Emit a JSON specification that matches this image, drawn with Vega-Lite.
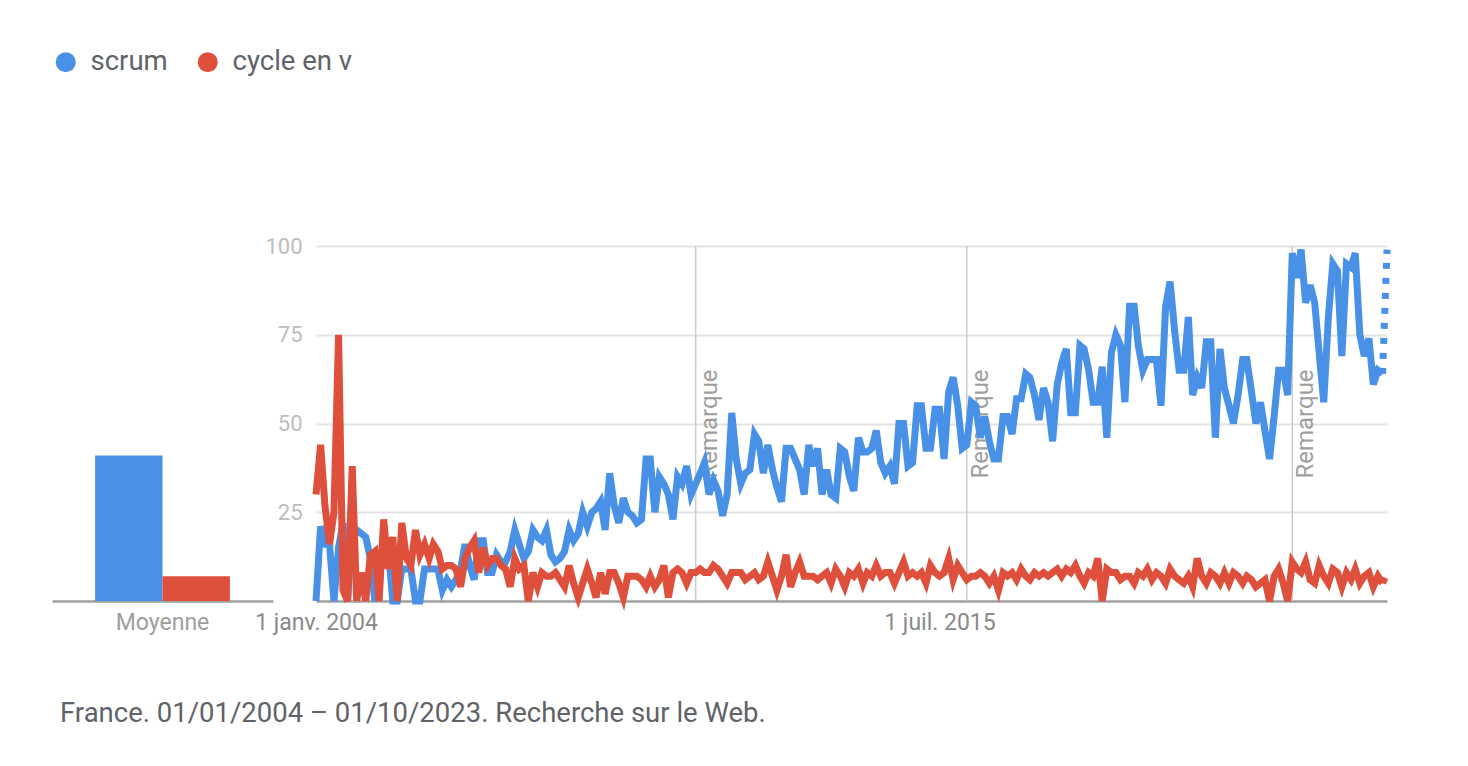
{
  "$schema": "https://vega.github.io/schema/vega-lite/v6.json",
  "background": "white",
  "padding": {"left": 52, "top": 48, "right": 20, "bottom": 20},
  "config": {
    "font": "Roboto",
    "view": {"stroke": null},
    "axis": {"labelFont": "Roboto"},
    "legend": {"labelFont": "Roboto"}
  },
  "datasets": {
    "trends": [
      {"date":"2004-01-01","scrum":0,"cycle en v":30},{"date":"2004-02-01","scrum":21,"cycle en v":44},{"date":"2004-03-01","scrum":16,"cycle en v":27},{"date":"2004-04-01","scrum":16,"cycle en v":16},{"date":"2004-05-01","scrum":0,"cycle en v":25},{"date":"2004-06-01","scrum":15,"cycle en v":75},{"date":"2004-07-01","scrum":22,"cycle en v":3},{"date":"2004-08-01","scrum":0,"cycle en v":0},{"date":"2004-09-01","scrum":21,"cycle en v":38},{"date":"2004-10-01","scrum":20,"cycle en v":0},{"date":"2004-11-01","scrum":19,"cycle en v":8},{"date":"2004-12-01","scrum":18,"cycle en v":0},
      {"date":"2005-01-01","scrum":12,"cycle en v":13},{"date":"2005-02-01","scrum":0,"cycle en v":14},{"date":"2005-03-01","scrum":9,"cycle en v":0},{"date":"2005-04-01","scrum":15,"cycle en v":23},{"date":"2005-05-01","scrum":15,"cycle en v":9},{"date":"2005-06-01","scrum":0,"cycle en v":18},{"date":"2005-07-01","scrum":0,"cycle en v":0},{"date":"2005-08-01","scrum":9,"cycle en v":22},{"date":"2005-09-01","scrum":9,"cycle en v":12},{"date":"2005-10-01","scrum":9,"cycle en v":10},{"date":"2005-11-01","scrum":0,"cycle en v":20},{"date":"2005-12-01","scrum":0,"cycle en v":13},
      {"date":"2006-01-01","scrum":9,"cycle en v":16},{"date":"2006-02-01","scrum":9,"cycle en v":12},{"date":"2006-03-01","scrum":9,"cycle en v":16},{"date":"2006-04-01","scrum":9,"cycle en v":14},{"date":"2006-05-01","scrum":3,"cycle en v":9},{"date":"2006-06-01","scrum":6,"cycle en v":10},{"date":"2006-07-01","scrum":4,"cycle en v":10},{"date":"2006-08-01","scrum":6,"cycle en v":9},{"date":"2006-09-01","scrum":9,"cycle en v":4},{"date":"2006-10-01","scrum":16,"cycle en v":12},{"date":"2006-11-01","scrum":10,"cycle en v":15},{"date":"2006-12-01","scrum":6,"cycle en v":17},
      {"date":"2007-01-01","scrum":17,"cycle en v":8},{"date":"2007-02-01","scrum":17,"cycle en v":15},{"date":"2007-03-01","scrum":8,"cycle en v":10},{"date":"2007-04-01","scrum":8,"cycle en v":12},{"date":"2007-05-01","scrum":13,"cycle en v":12},{"date":"2007-06-01","scrum":11,"cycle en v":10},{"date":"2007-07-01","scrum":11,"cycle en v":9},{"date":"2007-08-01","scrum":14,"cycle en v":4},{"date":"2007-09-01","scrum":20,"cycle en v":12},{"date":"2007-10-01","scrum":16,"cycle en v":9},{"date":"2007-11-01","scrum":12,"cycle en v":10},{"date":"2007-12-01","scrum":14,"cycle en v":0},
      {"date":"2008-01-01","scrum":20,"cycle en v":8},{"date":"2008-02-01","scrum":18,"cycle en v":4},{"date":"2008-03-01","scrum":17,"cycle en v":8},{"date":"2008-04-01","scrum":20,"cycle en v":7},{"date":"2008-05-01","scrum":13,"cycle en v":7},{"date":"2008-06-01","scrum":11,"cycle en v":8},{"date":"2008-07-01","scrum":12,"cycle en v":6},{"date":"2008-08-01","scrum":14,"cycle en v":4},{"date":"2008-09-01","scrum":20,"cycle en v":10},{"date":"2008-10-01","scrum":17,"cycle en v":5},{"date":"2008-11-01","scrum":19,"cycle en v":1},{"date":"2008-12-01","scrum":25,"cycle en v":5},
      {"date":"2009-01-01","scrum":21,"cycle en v":9},{"date":"2009-02-01","scrum":25,"cycle en v":5},{"date":"2009-03-01","scrum":26,"cycle en v":1},{"date":"2009-04-01","scrum":28,"cycle en v":8},{"date":"2009-05-01","scrum":20,"cycle en v":2},{"date":"2009-06-01","scrum":36,"cycle en v":8},{"date":"2009-07-01","scrum":27,"cycle en v":8},{"date":"2009-08-01","scrum":22,"cycle en v":5},{"date":"2009-09-01","scrum":29,"cycle en v":1},{"date":"2009-10-01","scrum":25,"cycle en v":7},{"date":"2009-11-01","scrum":24,"cycle en v":7},{"date":"2009-12-01","scrum":22,"cycle en v":7},
      {"date":"2010-01-01","scrum":23,"cycle en v":6},{"date":"2010-02-01","scrum":40,"cycle en v":4},{"date":"2010-03-01","scrum":40,"cycle en v":7},{"date":"2010-04-01","scrum":25,"cycle en v":4},{"date":"2010-05-01","scrum":35,"cycle en v":6},{"date":"2010-06-01","scrum":33,"cycle en v":10},{"date":"2010-07-01","scrum":30,"cycle en v":1},{"date":"2010-08-01","scrum":23,"cycle en v":8},{"date":"2010-09-01","scrum":35,"cycle en v":9},{"date":"2010-10-01","scrum":33,"cycle en v":8},{"date":"2010-11-01","scrum":38,"cycle en v":5},{"date":"2010-12-01","scrum":30,"cycle en v":8},
      {"date":"2011-01-01","scrum":33,"cycle en v":8},{"date":"2011-02-01","scrum":36,"cycle en v":9},{"date":"2011-03-01","scrum":39,"cycle en v":8},{"date":"2011-04-01","scrum":30,"cycle en v":8},{"date":"2011-05-01","scrum":34,"cycle en v":10},{"date":"2011-06-01","scrum":31,"cycle en v":9},{"date":"2011-07-01","scrum":24,"cycle en v":7},{"date":"2011-08-01","scrum":30,"cycle en v":5},{"date":"2011-09-01","scrum":53,"cycle en v":8},{"date":"2011-10-01","scrum":40,"cycle en v":8},{"date":"2011-11-01","scrum":33,"cycle en v":8},{"date":"2011-12-01","scrum":36,"cycle en v":6},
      {"date":"2012-01-01","scrum":37,"cycle en v":7},{"date":"2012-02-01","scrum":47,"cycle en v":8},{"date":"2012-03-01","scrum":45,"cycle en v":6},{"date":"2012-04-01","scrum":36,"cycle en v":7},{"date":"2012-05-01","scrum":44,"cycle en v":11},{"date":"2012-06-01","scrum":37,"cycle en v":7},{"date":"2012-07-01","scrum":32,"cycle en v":3},{"date":"2012-08-01","scrum":28,"cycle en v":7},{"date":"2012-09-01","scrum":43,"cycle en v":13},{"date":"2012-10-01","scrum":43,"cycle en v":4},{"date":"2012-11-01","scrum":40,"cycle en v":8},{"date":"2012-12-01","scrum":37,"cycle en v":11},
      {"date":"2013-01-01","scrum":30,"cycle en v":7},{"date":"2013-02-01","scrum":44,"cycle en v":7},{"date":"2013-03-01","scrum":38,"cycle en v":7},{"date":"2013-04-01","scrum":43,"cycle en v":6},{"date":"2013-05-01","scrum":30,"cycle en v":7},{"date":"2013-06-01","scrum":37,"cycle en v":8},{"date":"2013-07-01","scrum":30,"cycle en v":5},{"date":"2013-08-01","scrum":29,"cycle en v":9},{"date":"2013-09-01","scrum":43,"cycle en v":7},{"date":"2013-10-01","scrum":42,"cycle en v":4},{"date":"2013-11-01","scrum":35,"cycle en v":8},{"date":"2013-12-01","scrum":31,"cycle en v":7},
      {"date":"2014-01-01","scrum":46,"cycle en v":9},{"date":"2014-02-01","scrum":42,"cycle en v":5},{"date":"2014-03-01","scrum":42,"cycle en v":8},{"date":"2014-04-01","scrum":43,"cycle en v":7},{"date":"2014-05-01","scrum":48,"cycle en v":10},{"date":"2014-06-01","scrum":39,"cycle en v":7},{"date":"2014-07-01","scrum":36,"cycle en v":8},{"date":"2014-08-01","scrum":38,"cycle en v":8},{"date":"2014-09-01","scrum":33,"cycle en v":5},{"date":"2014-10-01","scrum":50,"cycle en v":8},{"date":"2014-11-01","scrum":50,"cycle en v":11},{"date":"2014-12-01","scrum":38,"cycle en v":7},
      {"date":"2015-01-01","scrum":39,"cycle en v":8},{"date":"2015-02-01","scrum":55,"cycle en v":7},{"date":"2015-03-01","scrum":55,"cycle en v":8},{"date":"2015-04-01","scrum":43,"cycle en v":5},{"date":"2015-05-01","scrum":43,"cycle en v":10},{"date":"2015-06-01","scrum":54,"cycle en v":8},{"date":"2015-07-01","scrum":54,"cycle en v":7},{"date":"2015-08-01","scrum":40,"cycle en v":8},{"date":"2015-09-01","scrum":59,"cycle en v":12},{"date":"2015-10-01","scrum":63,"cycle en v":6},{"date":"2015-11-01","scrum":55,"cycle en v":10},{"date":"2015-12-01","scrum":43,"cycle en v":8},
      {"date":"2016-01-01","scrum":44,"cycle en v":6},{"date":"2016-02-01","scrum":56,"cycle en v":7},{"date":"2016-03-01","scrum":55,"cycle en v":7},{"date":"2016-04-01","scrum":46,"cycle en v":8},{"date":"2016-05-01","scrum":52,"cycle en v":7},{"date":"2016-06-01","scrum":45,"cycle en v":5},{"date":"2016-07-01","scrum":40,"cycle en v":7},{"date":"2016-08-01","scrum":40,"cycle en v":3},{"date":"2016-09-01","scrum":52,"cycle en v":8},{"date":"2016-10-01","scrum":52,"cycle en v":7},{"date":"2016-11-01","scrum":47,"cycle en v":8},{"date":"2016-12-01","scrum":57,"cycle en v":6},
      {"date":"2017-01-01","scrum":57,"cycle en v":9},{"date":"2017-02-01","scrum":64,"cycle en v":7},{"date":"2017-03-01","scrum":63,"cycle en v":6},{"date":"2017-04-01","scrum":58,"cycle en v":8},{"date":"2017-05-01","scrum":51,"cycle en v":7},{"date":"2017-06-01","scrum":60,"cycle en v":8},{"date":"2017-07-01","scrum":56,"cycle en v":7},{"date":"2017-08-01","scrum":45,"cycle en v":8},{"date":"2017-09-01","scrum":61,"cycle en v":9},{"date":"2017-10-01","scrum":67,"cycle en v":7},{"date":"2017-11-01","scrum":71,"cycle en v":9},{"date":"2017-12-01","scrum":53,"cycle en v":8},
      {"date":"2018-01-01","scrum":53,"cycle en v":10},{"date":"2018-02-01","scrum":72,"cycle en v":7},{"date":"2018-03-01","scrum":71,"cycle en v":5},{"date":"2018-04-01","scrum":65,"cycle en v":8},{"date":"2018-05-01","scrum":56,"cycle en v":7},{"date":"2018-06-01","scrum":56,"cycle en v":12},{"date":"2018-07-01","scrum":66,"cycle en v":0},{"date":"2018-08-01","scrum":46,"cycle en v":9},{"date":"2018-09-01","scrum":70,"cycle en v":8},{"date":"2018-10-01","scrum":75,"cycle en v":8},{"date":"2018-11-01","scrum":72,"cycle en v":6},{"date":"2018-12-01","scrum":56,"cycle en v":7},
      {"date":"2019-01-01","scrum":83,"cycle en v":7},{"date":"2019-02-01","scrum":83,"cycle en v":5},{"date":"2019-03-01","scrum":72,"cycle en v":8},{"date":"2019-04-01","scrum":65,"cycle en v":7},{"date":"2019-05-01","scrum":68,"cycle en v":9},{"date":"2019-06-01","scrum":68,"cycle en v":6},{"date":"2019-07-01","scrum":68,"cycle en v":8},{"date":"2019-08-01","scrum":55,"cycle en v":7},{"date":"2019-09-01","scrum":83,"cycle en v":5},{"date":"2019-10-01","scrum":90,"cycle en v":9},{"date":"2019-11-01","scrum":76,"cycle en v":7},{"date":"2019-12-01","scrum":65,"cycle en v":6},
      {"date":"2020-01-01","scrum":65,"cycle en v":5},{"date":"2020-02-01","scrum":80,"cycle en v":7},{"date":"2020-03-01","scrum":58,"cycle en v":4},{"date":"2020-04-01","scrum":63,"cycle en v":12},{"date":"2020-05-01","scrum":60,"cycle en v":7},{"date":"2020-06-01","scrum":73,"cycle en v":5},{"date":"2020-07-01","scrum":73,"cycle en v":8},{"date":"2020-08-01","scrum":46,"cycle en v":7},{"date":"2020-09-01","scrum":71,"cycle en v":5},{"date":"2020-10-01","scrum":60,"cycle en v":8},{"date":"2020-11-01","scrum":55,"cycle en v":5},{"date":"2020-12-01","scrum":50,"cycle en v":8},
      {"date":"2021-01-01","scrum":58,"cycle en v":7},{"date":"2021-02-01","scrum":68,"cycle en v":5},{"date":"2021-03-01","scrum":68,"cycle en v":7},{"date":"2021-04-01","scrum":59,"cycle en v":6},{"date":"2021-05-01","scrum":50,"cycle en v":4},{"date":"2021-06-01","scrum":56,"cycle en v":5},{"date":"2021-07-01","scrum":48,"cycle en v":6},{"date":"2021-08-01","scrum":40,"cycle en v":0},{"date":"2021-09-01","scrum":52,"cycle en v":7},{"date":"2021-10-01","scrum":65,"cycle en v":9},{"date":"2021-11-01","scrum":65,"cycle en v":5},{"date":"2021-12-01","scrum":58,"cycle en v":0},
      {"date":"2022-01-01","scrum":98,"cycle en v":11},{"date":"2022-02-01","scrum":91,"cycle en v":9},{"date":"2022-03-01","scrum":99,"cycle en v":8},{"date":"2022-04-01","scrum":84,"cycle en v":11},{"date":"2022-05-01","scrum":89,"cycle en v":6},{"date":"2022-06-01","scrum":84,"cycle en v":5},{"date":"2022-07-01","scrum":70,"cycle en v":10},{"date":"2022-08-01","scrum":56,"cycle en v":7},{"date":"2022-09-01","scrum":80,"cycle en v":5},{"date":"2022-10-01","scrum":95,"cycle en v":9},{"date":"2022-11-01","scrum":93,"cycle en v":8},{"date":"2022-12-01","scrum":69,"cycle en v":4},
      {"date":"2023-01-01","scrum":95,"cycle en v":8},{"date":"2023-02-01","scrum":94,"cycle en v":6},{"date":"2023-03-01","scrum":98,"cycle en v":9},{"date":"2023-04-01","scrum":75,"cycle en v":5},{"date":"2023-05-01","scrum":69,"cycle en v":7},{"date":"2023-06-01","scrum":74,"cycle en v":8},{"date":"2023-07-01","scrum":61,"cycle en v":4},{"date":"2023-08-01","scrum":65,"cycle en v":7},{"date":"2023-09-01","scrum":64,"cycle en v":5},{"date":"2023-10-01","scrum":99,"cycle en v":8}
    ],
    "moyenne": [
      {"periode": "Moyenne", "terme": "scrum", "valeur": 41},
      {"periode": "Moyenne", "terme": "cycle en v", "valeur": 7}
    ],
    "notes": [
      {"date": "2011-01-01", "note": "Remarque"},
      {"date": "2016-01-01", "note": "Remarque"},
      {"date": "2022-01-01", "note": "Remarque"}
    ]
  },
  "title": {
    "text": "France. 01/01/2004 – 01/10/2023. Recherche sur le Web.",
    "orient": "bottom",
    "anchor": "start",
    "frame": "bounds",
    "offset": 66,
    "dx": 8,
    "font": "Roboto",
    "fontSize": 27.5,
    "fontWeight": "normal",
    "color": "#5f6368"
  },
  "bounds": "flush",
  "spacing": 43,
  "resolve": {"scale": {"color": "independent"}, "legend": {"color": "independent"}},
  "hconcat": [
    {
      "width": 221,
      "height": 355,
      "data": {"name": "moyenne"},
      "mark": {"type": "bar"},
      "encoding": {
        "x": {
          "field": "periode", "type": "nominal",
          "scale": {"paddingOuter": 0.32, "paddingInner": 0},
          "axis": {"title": null, "labelAngle": 0, "ticks": false, "domainColor": "#a0a0a0", "domainWidth": 2.5, "labelColor": "#9e9e9e", "labelFontSize": 23, "labelPadding": 10}
        },
        "xOffset": {"field": "terme", "type": "nominal", "sort": ["scrum", "cycle en v"], "scale": {"paddingInner": 0, "paddingOuter": 0}},
        "y": {"field": "valeur", "type": "quantitative", "scale": {"domain": [0, 100], "nice": false}, "axis": null},
        "color": {
          "field": "terme", "type": "nominal",
          "scale": {"domain": ["scrum", "cycle en v"], "range": ["#4891e6", "#de503c"]},
          "legend": {
            "title": null, "orient": "none", "legendX": 0, "legendY": -198,
            "direction": "horizontal", "symbolType": "circle", "symbolSize": 400,
            "symbolStrokeWidth": 0, "labelFontSize": 27.5, "labelColor": "#5f6368",
            "labelOffset": 11, "columnPadding": 26, "padding": 0
          }
        }
      }
    },
    {
      "width": 1071,
      "height": 355,
      "layer": [
        {
          "data": {"name": "notes"},
          "mark": {"type": "rule", "color": "#cccccc", "strokeWidth": 1.5},
          "encoding": {
            "x": {"field": "date", "type": "temporal"},
            "y": {"datum": 0},
            "y2": {"datum": 100}
          }
        },
        {
          "data": {"name": "notes"},
          "mark": {"type": "text", "angle": 270, "align": "left", "baseline": "middle", "dy": 14, "fontSize": 24, "color": "#9e9e9e", "font": "Roboto"},
          "encoding": {
            "x": {"field": "date", "type": "temporal"},
            "y": {"datum": 34.5},
            "text": {"field": "note"}
          }
        },
        {
          "data": {"name": "trends", "format": {"parse": {"date": "date"}}},
          "transform": [
            {"fold": ["scrum", "cycle en v"], "as": ["terme", "valeur"]},
            {"filter": "datum.date <= datetime(2023, 8, 15)"}
          ],
          "mark": {"type": "line", "strokeWidth": 7},
          "encoding": {
            "x": {
              "field": "date", "type": "temporal",
              "scale": {"domain": [{"year": 2004, "month": 1, "date": 1}, {"year": 2023, "month": 10, "date": 1}], "nice": false},
              "axis": {
                "values": [{"year": 2004, "month": 1, "date": 1}, {"year": 2015, "month": 7, "date": 1}],
                "labelExpr": "year(datum.value) == 2004 ? '1 janv. 2004' : '1 juil. 2015'",
                "title": null, "grid": false, "ticks": false, "domainColor": "#a0a0a0", "domainWidth": 2.5,
                "labelColor": "#8a8a8a", "labelFontSize": 23, "labelPadding": 10, "labelFlush": false, "labelOverlap": false
              }
            },
            "y": {
              "field": "valeur", "type": "quantitative",
              "scale": {"domain": [0, 100], "nice": false},
              "axis": {"values": [25, 50, 75, 100], "title": null, "grid": true, "domain": false, "ticks": false, "labelColor": "#bdbdbd", "labelFontSize": 22, "labelPadding": 14, "gridColor": "#e3e3e3", "gridWidth": 2}
            },
            "color": {"field": "terme", "type": "nominal", "sort": ["scrum", "cycle en v"], "scale": {"domain": ["scrum", "cycle en v"], "range": ["#4891e6", "#de503c"]}, "legend": null}
          }
        },
        {
          "data": {"name": "trends", "format": {"parse": {"date": "date"}}},
          "transform": [
            {"fold": ["scrum", "cycle en v"], "as": ["terme", "valeur"]},
            {"filter": "datum.date >= datetime(2023, 7, 15)"}
          ],
          "mark": {"type": "line", "strokeWidth": 7, "strokeDash": [6, 9]},
          "encoding": {
            "x": {"field": "date", "type": "temporal"},
            "y": {"field": "valeur", "type": "quantitative"},
            "color": {"field": "terme", "type": "nominal", "sort": ["scrum", "cycle en v"], "legend": null}
          }
        }
      ]
    }
  ]
}
